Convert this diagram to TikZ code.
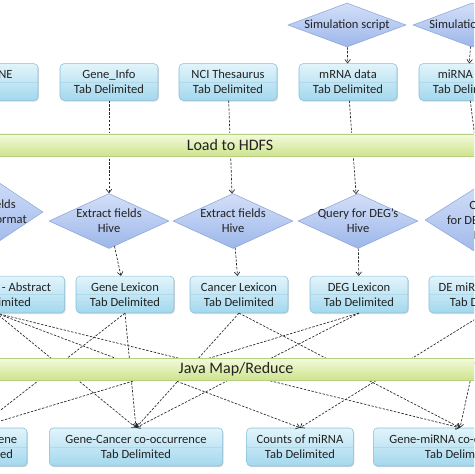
\documentclass[tikz,border=0pt]{standalone}
\usepackage{fontspec}
\setmainfont{Carlito}
\usetikzlibrary{arrows.meta,shapes.geometric,shadows}
\definecolor{boxtop}{HTML}{E2F4FB}
\definecolor{boxbot}{HTML}{A3D8EE}
\definecolor{boxedge}{HTML}{88BED6}
\definecolor{boxline}{HTML}{B2D9EA}
\definecolor{diatop}{HTML}{D3DFF8}
\definecolor{diabot}{HTML}{9DB7EA}
\definecolor{diaedge}{HTML}{8CA5D8}
\definecolor{bartop}{HTML}{F4FADC}
\definecolor{barbot}{HTML}{CDE48E}
\definecolor{baredge}{HTML}{B7CF82}
\definecolor{txt}{HTML}{222222}
\tikzset{
  box/.style  = {draw=boxedge, rounded corners=3pt, top color=boxtop, bottom color=boxbot,
                 align=center, text=txt, font=\fontsize{9.4}{11.25}\selectfont,
                 inner sep=0pt, minimum width=73.5pt, minimum height=27.5pt,
                 drop shadow={shadow xshift=0.7pt, shadow yshift=-0.9pt, opacity=0.3},
                 path picture={\draw[boxline] (path picture bounding box.west)
                               -- (path picture bounding box.east);}},
  dia/.style  = {diamond, draw=diaedge, top color=diatop, bottom color=diabot,
                 align=center, text=txt, font=\fontsize{9.4}{11.25}\selectfont,
                 inner xsep=-40pt, inner ysep=-20pt,
                 minimum width=90pt, minimum height=41.25pt},
  bar/.style  = {draw=baredge, top color=bartop, bottom color=barbot, text=txt,
                 font=\fontsize{12}{14}\selectfont, minimum width=400pt,
                 minimum height=16.5pt, inner sep=0pt,
                 drop shadow={shadow xshift=0pt, shadow yshift=-0.9pt, opacity=0.25}},
  e/.style    = {-{Straight Barb[length=2.6pt,width=4.2pt]}, black!85,
                 line width=0.5pt, dash pattern=on 1.8pt off 1.1pt}
}

\begin{document}
\begin{tikzpicture}[x=0.75pt,y=-0.75pt]
  \useasboundingbox (0,0) rectangle (474,474);
  \clip (0,0) rectangle (474,474);
  % sources
  \node[dia, minimum width=88.5pt, minimum height=33pt] (sim1) at (347,25) {Simulation script};
  \node[dia, minimum width=88.5pt, minimum height=33pt] (sim2) at (472,25) {Simulation script};
  \node[box] (medl)  at (-11,82) {MEDLINE\\XML};
  \node[box] (ginfo) at (109,82) {Gene\_Info\\Tab Delimited};
  \node[box] (nci)   at (228,82) {NCI Thesaurus\\Tab Delimited};
  \node[box] (mrna)  at (348,82) {mRNA data\\Tab Delimited};
  \node[box] (mirna) at (468,82) {miRNA data\\Tab Delimited};
  % extraction
  \node[dia, minimum height=60pt] (xml) at (-17,212) {Extract fields\\from XML format};
  \node[dia] (xgene) at (109,221) {Extract fields\\Hive};
  \node[dia] (xcan)  at (233,221) {Extract fields\\Hive};
  \node[dia] (qdeg)  at (358,221) {Query for DEG's\\Hive};
  \node[dia, minimum height=57pt] (qmir) at (485,220) {Query\\for DE miRNA's\\Hive};
  % lexicons
  \node[box, minimum width=103pt] (abs) at (-4,294.5) {Article Title - Abstract\\Tab Delimited};
  \node[box] (glex) at (125,294.5) {Gene Lexicon\\Tab Delimited};
  \node[box] (clex) at (239,294.5) {Cancer Lexicon\\Tab Delimited};
  \node[box] (dlex) at (359,294.5) {DEG Lexicon\\Tab Delimited};
  \node[box, minimum width=84pt] (mlex) at (485,294.5) {DE miRNA Lexicon\\Tab Delimited};
  % results
  \node[box, minimum height=28.5pt] (cgene) at (-22,447) {Counts of Gene\\Tab Delimited};
  \node[box, minimum height=28.5pt, minimum width=130pt] (gcan) at (136,447) {Gene-Cancer co-occurrence\\Tab Delimited};
  \node[box, minimum height=28.5pt, minimum width=80pt] (cmir) at (300,447) {Counts of miRNA\\Tab Delimited};
  \node[box, minimum height=28.5pt, minimum width=130pt] (gmir) at (460,447) {Gene-miRNA co-occurrence\\Tab Delimited};

  \draw[e] (sim1) -- (mrna); \draw[e] (sim2) -- (mirna);
  \draw[e] (medl) -- (xml); \draw[e] (ginfo) -- (xgene); \draw[e] (nci) -- (xcan);
  \draw[e] (mrna) -- (qdeg); \draw[e] (mirna) -- (qmir);
  \draw[e] (xml) -- (abs); \draw[e] (xgene) -- (glex); \draw[e] (xcan) -- (clex);
  \draw[e] (qdeg) -- (dlex); \draw[e] (qmir) -- (mlex);
  \draw[e] (abs.south) -- (gcan.north); \draw[e] (abs.south) -- (cmir.north);
  \draw[e] (abs.south) -- (gmir.north);
  \draw[e] (glex.south) -- (cgene.north); \draw[e] (glex.south) -- (gcan.north);
  \draw[e] (clex.south) -- (gcan.north); \draw[e] (clex.south) -- (gmir.north);
  \draw[e] (dlex.south) -- (cgene.north); \draw[e] (dlex.south) -- (gcan.north);
  \draw[e] (mlex.south) -- (cmir.north); \draw[e] (mlex.south) -- (gmir.north);

  \node[bar] (hdfs) at (230,145) {Load to HDFS};
  \node[bar] (mapr) at (236,369) {Java Map/Reduce};
\end{tikzpicture}
\end{document}
